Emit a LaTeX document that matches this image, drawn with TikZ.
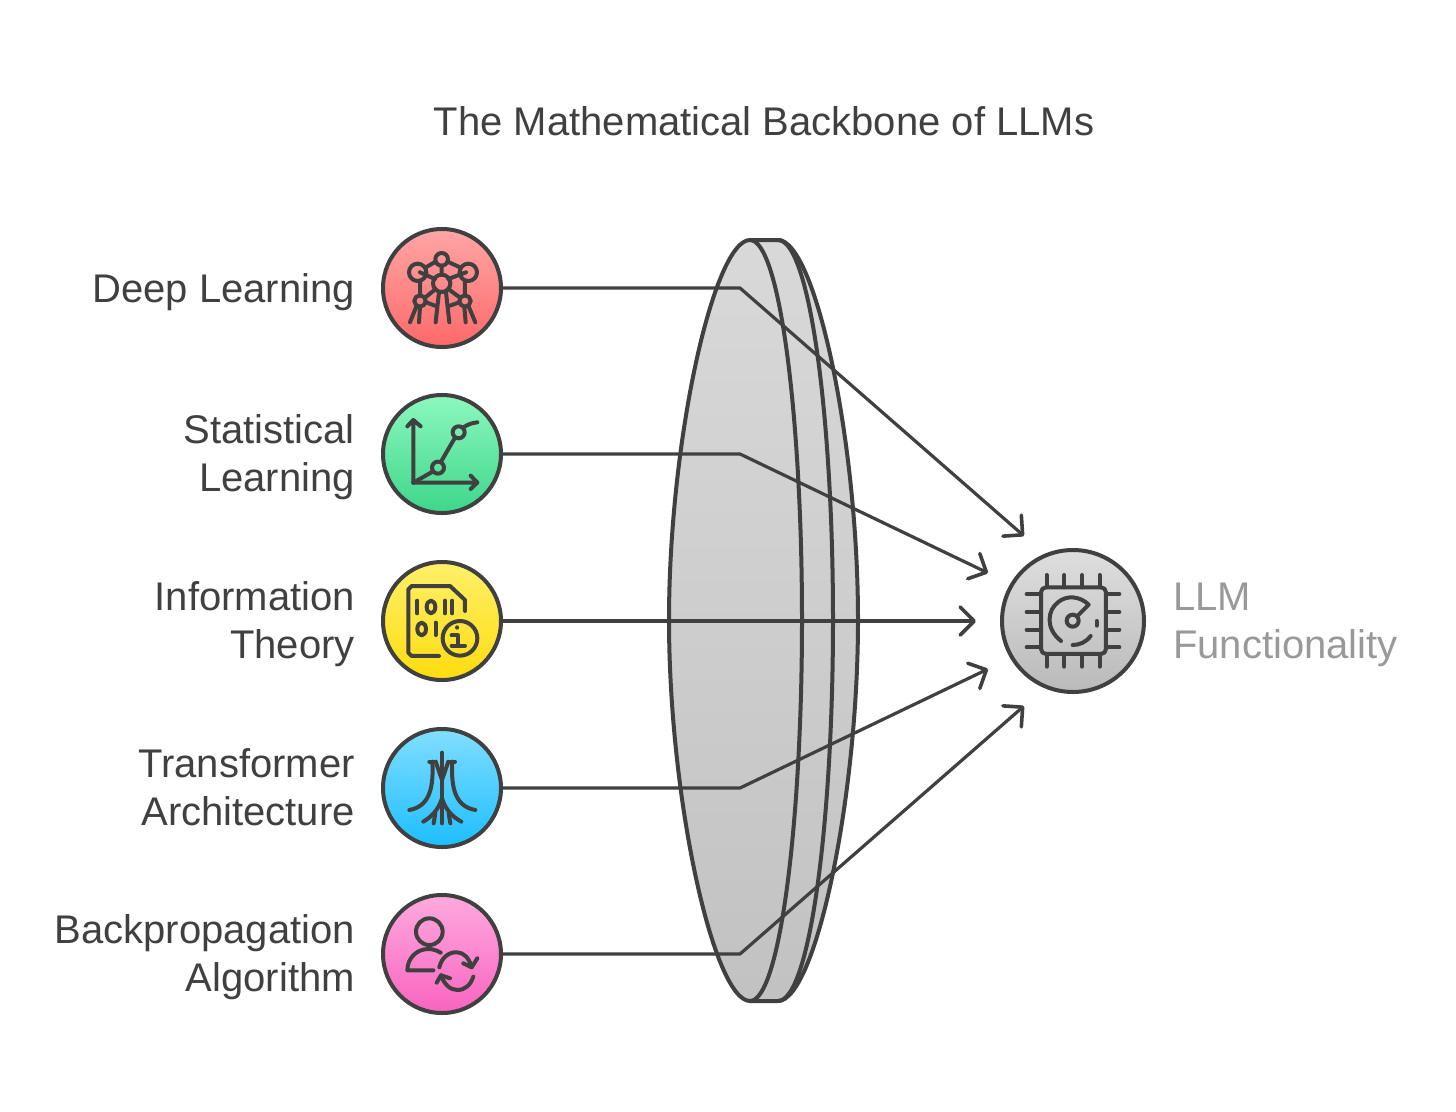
\documentclass[tikz,border=0pt]{standalone}
\usepackage{fontspec}
\setmainfont{Liberation Sans}
\usetikzlibrary{arrows.meta}
\definecolor{ink}{HTML}{404040}
\tikzset{
  x=1pt,y=-1pt,
  txt/.style={font=\fontsize{40}{48}\selectfont,text=ink,inner sep=0pt,
    execute at begin node={\rule{0pt}{30pt}},execute at end node={\rule[-10pt]{0pt}{10pt}}},
  lbl/.style={txt,align=right,anchor=east},
  ball/.style={circle,draw=ink,line width=4pt,minimum size=118pt,inner sep=0pt},
  link/.style={draw=ink,line width=3.2pt,line join=round,-{Straight Barb[length=14pt,width=28pt,round,line width=3.6pt]}},
  disc/.style={draw=ink,line width=4pt,line join=round},
  ic/.style={draw=ink,line width=4pt,line cap=round,line join=round},
}
\begin{document}
\begin{tikzpicture}
\useasboundingbox (0,0) rectangle (1456,1111);
\fill[white] (0,0) rectangle (1456,1111);
% title
\node[txt] (title) at (764,125) {The Mathematical Backbone of LLMs};
% lens
\shade[top color=black!15,bottom color=black!24]
  (750,240) .. controls (714,240) and (669,440) .. (669,620) .. controls (669,800) and (714,1001) .. (750,1001)
  -- (778,1001) .. controls (815,1001) and (858,800) .. (858,620) .. controls (858,440) and (815,240) .. (778,240) -- cycle;
\draw[disc] (778,240) -- (750,240) .. controls (714,240) and (669,440) .. (669,620) .. controls (669,800) and (714,1001) .. (750,1001) -- (778,1001);
\draw[disc] (750,240) .. controls (780,240) and (802,420) .. (802,620) .. controls (802,820) and (780,1001) .. (750,1001);
\draw[disc] (778,240) .. controls (810,240) and (833,420) .. (833,620) .. controls (833,820) and (810,1001) .. (778,1001);
\draw[disc] (778,240) .. controls (815,240) and (858,440) .. (858,620) .. controls (858,800) and (815,1001) .. (778,1001);
% balls
\node[ball,top color=red!35!white!100,bottom color={rgb,255:red,255;green,105;blue,105}] (a) at (442,288) {};
\node[ball,top color={rgb,255:red,140;green,248;blue,190},bottom color={rgb,255:red,62;green,214;blue,138}] (b) at (442,454) {};
\node[ball,top color={rgb,255:red,255;green,240;blue,105},bottom color={rgb,255:red,255;green,220;blue,15}] (c) at (442,621) {};
\node[ball,top color={rgb,255:red,130;green,222;blue,255},bottom color={rgb,255:red,28;green,190;blue,255}] (d) at (442,788) {};
\node[ball,top color={rgb,255:red,255;green,170;blue,222},bottom color={rgb,255:red,248;green,100;blue,192}] (e) at (442,954) {};
\node[ball,minimum size=142pt,top color=black!13,bottom color=black!27] (t) at (1073,621) {};
% labels
\node[lbl] (la) at (355,292) {Deep Learning};
\node[lbl] (lb) at (355,458) {Statistical\\Learning};
\node[lbl] (lc) at (355,625) {Information\\Theory};
\node[lbl] (ld) at (355,792) {Transformer\\Architecture};
\node[lbl] (le) at (355,958) {Backpropagation\\Algorithm};
\node[lbl,anchor=west,align=left,text=black!40] (lt) at (1173,626) {LLM\\Functionality};
% connectors
\coordinate (ba) at (740,288); \coordinate (ea) at (1024,536);
\coordinate (bb) at (740,454); \coordinate (eb) at (988,573);
\coordinate (ec) at (976,621);
\coordinate (bd) at (740,788); \coordinate (ed) at (988,669);
\coordinate (be) at (740,954); \coordinate (ee) at (1024,706);
\draw[link] (a.east) -- (ba) -- (ea);
\draw[link] (b.east) -- (bb) -- (eb);
\draw[link] (c.east) -- (ec);
\draw[link] (d.east) -- (bd) -- (ed);
\draw[link] (e.east) -- (be) -- (ee);
% icon: atomium
\begin{scope}[shift={(370pt,-215pt)},x=0.3333pt,y=-0.3333pt]
\draw[ic] (215,133) circle [radius=19] (215,205) circle [radius=26] (143,172) circle [radius=26] (295,172) circle [radius=26] (150,258) circle [radius=17] (285,258) circle [radius=17];
\draw[ic] (197,322) -- (207,232) (238,322) -- (228,232) (120,322) -- (140,272) (147,322) -- (150,276) (316,322) -- (295,272) (287,322) -- (283,276);
\draw[ic] (197,140) -- (166,158) (233,140) -- (272,158) (215,152) -- (215,180) (150,172) -- (195,192) (288,172) -- (235,192) (150,197) -- (150,241) (285,197) -- (285,241) (165,248) -- (197,222) (270,248) -- (235,222) (168,262) -- (195,272) (268,262) -- (240,272);
% icon: chart
\draw[ic] (130,803) -- (130,615) (112,634) -- (130,615) -- (152,634);
\draw[ic] (130,803) -- (322,803) (302,782) -- (322,803) -- (302,822);
\draw[ic] (130,803) -- (188,770) (204,758) circle [radius=18] (212,742) -- (255,668) (266,652) circle [radius=18];
\draw[ic] (282,636) .. controls (295,628) and (305,624) .. (322,622);
\end{scope}
% icon: file info
\begin{scope}[shift={(370pt,-550pt)},x=0.3333pt,y=-0.3333pt]
\draw[ic] (207,318) -- (125,318) -- (115,308) -- (115,118) -- (125,108) -- (240,108) -- (285,150) -- (285,183);
\draw[ic] (142,152) -- (142,190) (225,152) -- (225,190) (247,152) -- (247,190) (197,218) -- (197,255);
\draw[ic] (183,171) ellipse [x radius=13,y radius=19] (155,237) ellipse [x radius=13,y radius=19];
\draw[ic] (270,265) circle [radius=52];
\draw[ic] (262,232) -- (262,233) (245,256) -- (263,256) -- (263,287) (245,287) -- (285,287);
% icon: tree
\draw[ic] (216,608) -- (216,820);
\draw[ic] (178,635) -- (197,635) (235,635) -- (255,635);
\draw[ic] (187,635) .. controls (192,720) and (175,770) .. (118,780);
\draw[ic] (247,635) .. controls (242,720) and (259,770) .. (316,780);
\draw[ic] (197,635) -- (216,690) -- (235,635);
\draw[ic] (216,745) .. controls (205,780) and (185,800) .. (160,815);
\draw[ic] (216,745) .. controls (227,780) and (247,800) .. (274,815);
\draw[ic] (196,790) -- (191,820) (236,790) -- (241,820);
\end{scope}
% icon: user refresh
\begin{scope}[shift={(370pt,-880pt)},x=0.3333pt,y=-0.3333pt]
\draw[ic] (178,155) circle [radius=40];
\draw[ic] (190,271) -- (112,271) .. controls (112,235) and (140,207) .. (175,207) .. controls (188,207) and (200,211) .. (212,218);
\draw[ic] (208,262) .. controls (215,230) and (240,215) .. (262,217) .. controls (282,218) and (298,235) .. (305,262);
\draw[ic] (322,235) -- (305,262) -- (280,250);
\draw[ic] (310,290) .. controls (302,315) and (285,330) .. (262,330) .. controls (240,330) and (222,312) .. (213,286);
\draw[ic] (200,308) -- (213,286) -- (240,295);
\end{scope}
% icon: chip
\begin{scope}[shift={(960pt,-510pt)},x=0.3333pt,y=-0.3333pt]
\draw[ic,rounded corners=5pt] (243,232) rectangle (438,432);
\draw[ic] (260,195) -- (260,232) (313,195) -- (313,232) (366,195) -- (366,232) (419,195) -- (419,232);
\draw[ic] (260,432) -- (260,470) (313,432) -- (313,470) (366,432) -- (366,470) (419,432) -- (419,470);
\draw[ic] (200,252) -- (243,252) (200,306) -- (243,306) (200,359) -- (243,359) (200,412) -- (243,412);
\draw[ic] (438,252) -- (478,252) (438,306) -- (478,306) (438,359) -- (478,359) (438,412) -- (478,412);
\draw[ic] (338,332) circle [radius=18];
\draw[ic] (351,319) -- (386,284) .. controls (360,258) and (320,255) .. (295,276) .. controls (262,300) and (255,355) .. (303,393);
\draw[ic] (410,333) -- (410,347);
\draw[ic] (338,405) .. controls (358,405) and (378,397) .. (392,378);
\end{scope}
\end{tikzpicture}
\end{document}
